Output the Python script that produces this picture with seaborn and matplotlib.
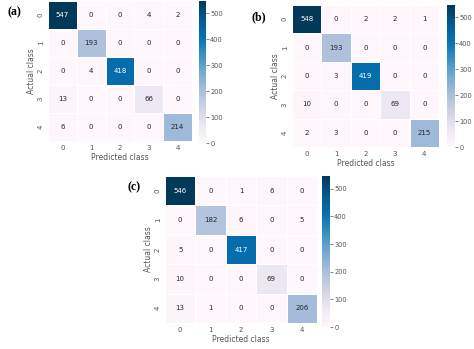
import numpy as np
import matplotlib
matplotlib.use("Agg")
import matplotlib.pyplot as plt
import seaborn as sns

classes = ["0", "1", "2", "3", "4"]
cm_a = [[547, 0, 0, 4, 2],
        [0, 193, 0, 0, 0],
        [0, 4, 418, 0, 0],
        [13, 0, 0, 66, 0],
        [6, 0, 0, 0, 214]]
cm_b = [[548, 0, 2, 2, 1],
        [0, 193, 0, 0, 0],
        [0, 3, 419, 0, 0],
        [10, 0, 0, 69, 0],
        [2, 3, 0, 0, 215]]
cm_c = [[546, 0, 1, 6, 0],
        [0, 182, 6, 0, 5],
        [5, 0, 417, 0, 0],
        [10, 0, 0, 69, 0],
        [13, 1, 0, 0, 206]]
panel_labels = ["(a)", "(b)", "(c)"]

W, H = 474, 349
fig = plt.figure(figsize=(W / 100, H / 100), dpi=100)

def ax_px(x0, y0, x1, y1):
    return fig.add_axes([x0 / W, 1 - y1 / H, (x1 - x0) / W, (y1 - y0) / H])

layout = [
    ((48, 1, 192, 141), (199, 1, 206, 143), (8, 12)),
    ((292, 5, 439, 147), (447, 5, 455, 147), (251, 17)),
    ((165, 176, 317, 323), (322, 176, 330, 327), (127, 187)),
]

for cm, lab, (hb, cb, lp) in zip([cm_a, cm_b, cm_c], panel_labels, layout):
    ax = ax_px(*hb)
    cax = ax_px(*cb)
    arr = np.array(cm)
    sns.heatmap(arr, ax=ax, cbar_ax=cax, cmap="PuBu", annot=True, fmt="d",
                linewidths=0.5, linecolor="white", vmin=0, vmax=arr.max(),
                xticklabels=classes, yticklabels=classes,
                annot_kws={"fontsize": 5})
    ax.set_xlabel("Predicted class", fontsize=5.5, color="#555555", labelpad=1)
    ax.set_ylabel("Actual class", fontsize=5.5, color="#555555", labelpad=1)
    ax.tick_params(axis="both", labelsize=5, colors="#555555", length=0, pad=3)
    ax.set_yticklabels(classes, rotation=90, va="center")
    cax.tick_params(labelsize=4.8, colors="#555555", length=2, width=0.5, pad=1)
    cax.set_yticks([0, 100, 200, 300, 400, 500])
    for s in cax.spines.values():
        s.set_visible(False)
    fig.text(lp[0] / W, 1 - lp[1] / H, lab, fontsize=8.5, fontweight="bold",
             family="Liberation Serif", va="center", ha="left")

fig.savefig("out.png", dpi=100)
